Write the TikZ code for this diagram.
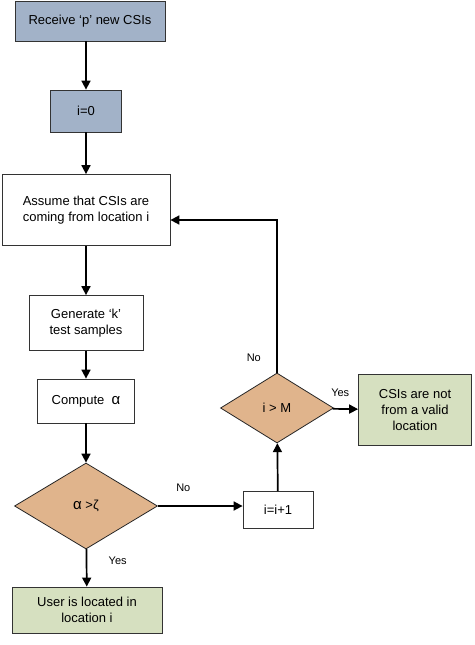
\documentclass[tikz,border=0pt]{standalone}
\usepackage{fontspec}
\setmainfont{Liberation Sans}
\usepackage{amsmath}
\usetikzlibrary{arrows.meta,shapes.geometric}

\definecolor{stepblue}{HTML}{A2B2C8}
\definecolor{steptan}{HTML}{E0B48C}
\definecolor{stepgreen}{HTML}{D6E0C0}

\tikzset{
  box/.style={draw=black!80, line width=0.8pt, align=center, font=\fontsize{13}{16}\selectfont, inner sep=0pt},
  decision/.style={diamond, draw=black!85, fill=steptan, line width=0.8pt, aspect=1.65, inner sep=0pt, font=\fontsize{13}{16}\selectfont},
  flow/.style={line width=1.7pt, -{Triangle[length=9pt,width=9pt]}},
  tag/.style={font=\fontsize{11}{13}\selectfont}
}

\begin{document}
\begin{tikzpicture}[x=1pt, y=-1pt]
        \useasboundingbox (0,0) rectangle (474,645);
        % left column
        \node [box, fill=stepblue, minimum width=150, minimum height=40] (receive) at (90,21) {Receive ‘p’ new CSIs};
        \node [box, fill=stepblue, minimum width=71, minimum height=42] (init) at (86,111) {i=0};
        \node [box, minimum width=168, minimum height=71] (assume) at (86,210) {Assume that CSIs are\\coming from location i};
        \node [box, minimum width=114, minimum height=55] (generate) at (86,323) {Generate ‘k’\\test samples};
        \node [box, minimum width=97, minimum height=44] (compute) at (86,401) {Compute \ {\fontsize{15}{16}\selectfont α}};
        \node [decision, minimum width=143, minimum height=86] (check) at (86,506) {{\fontsize{15}{16}\selectfont α} >ζ};
        \node [box, fill=stepgreen, minimum width=150, minimum height=46] (found) at (87,610) {User is located in\\location i};
        % right column
        \node [box, minimum width=70, minimum height=37] (incr) at (278,510) {i=i+1};
        \node [decision, minimum width=113, minimum height=70] (limit) at (277,408) {i > M};
        \node [box, fill=stepgreen, minimum width=113, minimum height=71] (invalid) at (415,410) {CSIs are not\\from a valid\\location};
        \coordinate (corner) at (277,220);

        \draw [flow] (init |- receive.south) to (init);
        \draw [flow] (init) to (assume);
        \draw [flow] (assume) to (generate);
        \draw [flow] (generate) to (compute);
        \draw [flow] (compute) to (check);
        \draw [flow] (check) to node[tag, right=18pt, pos=0.3]{Yes} (found);
        \draw [flow] (check.east) to node[tag, above=10pt, pos=0.3]{No} (incr.west |- check.east);
        \draw [flow] (incr) to (limit);
        \draw [flow] (limit) to node[tag, above=8pt, pos=0.3]{Yes} (invalid);
        \draw [flow] (limit.north) to node[tag, left=12pt, pos=0.1]{No} (corner) to (assume.east |- corner);
    \end{tikzpicture}
\end{document}
